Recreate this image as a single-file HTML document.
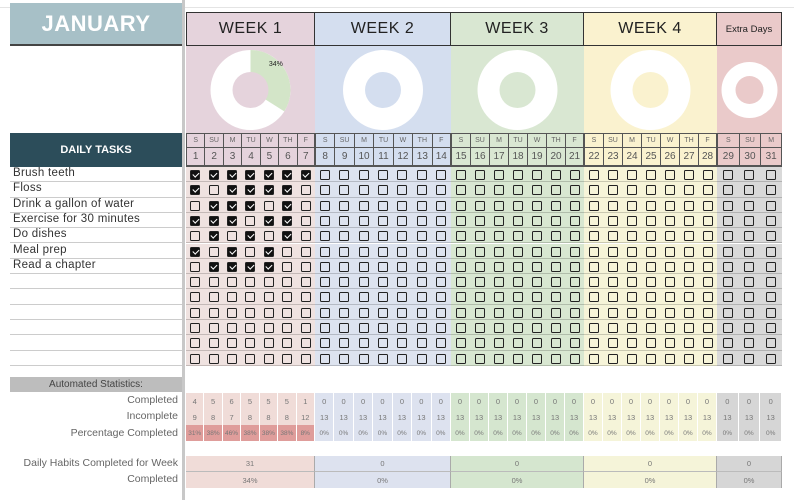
<!DOCTYPE html>
<html><head><meta charset="utf-8"><style>
body{margin:0;width:794px;height:500px;overflow:hidden;background:#fff;font-family:"Liberation Sans",sans-serif;position:relative}
.a{position:absolute;box-sizing:border-box}
.c{display:flex;align-items:center;justify-content:center}
.cb{position:absolute;width:10px;height:10px;border:1.6px solid #222;border-radius:1.5px;box-sizing:border-box}
.cb.on{background:#111}
.cb.on::after{content:"";position:absolute;left:2.5px;top:0px;width:2.5px;height:5px;border:solid #fff;border-width:0 1.3px 1.3px 0;transform:rotate(45deg)}
.task{position:absolute;left:13px;font-size:11.5px;color:#333;letter-spacing:.3px}
.lbl{position:absolute;right:616px;font-size:10.5px;color:#666;text-align:right;white-space:nowrap}
.sv{font-size:7.5px;color:#777}
</style></head><body>
<div class="a" style="left:0;top:0;width:794px;height:8px;border-bottom:1px solid #e4e4e4"></div>
<div class="a c" style="left:10px;top:3px;width:172px;height:43px;background:#a7c0c7;border-bottom:2px solid #444;color:#fff;font-weight:bold;font-size:22px;letter-spacing:.5px">JANUARY</div>
<div class="a" style="left:182px;top:0;width:3px;height:500px;background:#c8c8c8"></div>
<div class="a c" style="left:10px;top:133px;width:172px;height:34px;background:#2c4d5a;color:#fff;font-weight:bold;font-size:11px">DAILY TASKS</div>
<div class="a c" style="left:10px;top:377px;width:172px;height:15px;background:#bdbdbd;color:#444;font-size:10px">Automated Statistics:</div>
<div class="lbl" style="top:394px">Completed</div>
<div class="lbl" style="top:410px">Incomplete</div>
<div class="lbl" style="top:427px">Percentage Completed</div>
<div class="lbl" style="top:457px">Daily Habits Completed for Week</div>
<div class="lbl" style="top:473px">Completed</div>
<div id="root"></div>
<script>
const tasks=["Brush teeth","Floss","Drink a gallon of water","Exercise for 30 minutes","Do dishes","Meal prep","Read a chapter","","","","","",""];
const weekNames=["WEEK 1","WEEK 2","WEEK 3","WEEK 4","Extra Days"];
const dayLetters=["S","SU","M","TU","W","TH","F"];
const checks=[
[1,1,1,1,1,1,1],[1,0,1,1,1,1,0],[0,1,1,1,0,1,0],[1,1,1,0,1,1,0],[0,1,0,1,0,1,0],[1,0,1,0,1,0,0],[0,1,1,1,1,0,0]];
const completed=[4,5,6,5,5,5,1,0,0,0,0,0,0,0,0,0,0,0,0,0,0,0,0,0,0,0,0,0,0,0,0];
const incomplete=[9,8,7,8,8,8,12,13,13,13,13,13,13,13,13,13,13,13,13,13,13,13,13,13,13,13,13,13,13,13,13];
const percents=[31,38,46,38,38,38,8,0,0,0,0,0,0,0,0,0,0,0,0,0,0,0,0,0,0,0,0,0,0,0,0];
const weekTotals=[31,0,0,0,0];
const weekPct=[34,0,0,0,0];

const bounds=[186,315,451,584,717,782];
const nDays=[7,7,7,7,3];
const headC=["#e5d3dc","#d4deef","#d9e7d2","#faf2cf","#eacaca"];
const bodyC=["#efe2e0","#dde3ef","#d8e7d1","#f6f4d8","#d9d9d9"];
const statC=["#f0dcd8","#dde2ef","#d5e6cf","#f5f4d9","#d6d6d6"];
const root=document.getElementById('root');
function box(x,y,w,h,css,name){const d=document.createElement('div');d.className='a';d.style.cssText=`left:${x}px;top:${y}px;width:${w}px;height:${h}px;`+css;


root.appendChild(d);return d;}
const rowY=r=>167+r*15.3;
tasks.forEach((t,r)=>{const d=box(10,rowY(r),172,15.3,'border-bottom:1px solid #ccc;','task-row');
if(t){const s=document.createElement('div');s.className='task';s.style.cssText='left:3px;top:0px';s.textContent=t;


d.appendChild(s);}});
let day=0;
for(let w=0;w<5;w++){
 const x0=bounds[w],x1=bounds[w+1],W=x1-x0,cw=W/nDays[w];
 const t=box(x0,12,W,34,`background:${headC[w]};border:1px solid #333;border-left-width:${w?0:1}px;`,'week-title');
 t.classList.add('c');t.textContent=weekNames[w];t.style.fontSize=w<4?'16px':'9.5px';t.style.color='#222';t.style.letterSpacing=w<4?'.5px':'0';
 box(x0,46,W,87,`background:${headC[w]};`,'donut-area');
 const cx=W/2,cy=44,R=w<4?40:28,ri=w<4?18:14;
 const p=weekPct[w]/100;const ang=p*2*Math.PI;
 const ex=cx+R*Math.sin(ang),ey=cy-R*Math.cos(ang);
 let svg=`<svg width="${W}" height="87" style="position:absolute;left:0;top:0"><circle cx="${cx}" cy="${cy}" r="${R}" fill="#fff"/>`;
 if(p>0)svg+=`<path d="M${cx},${cy} L${cx},${cy-R} A${R},${R} 0 ${p>0.5?1:0} 1 ${ex},${ey} Z" fill="#d3e5c8"/>`;
 svg+=`<circle cx="${cx}" cy="${cy}" r="${ri}" fill="${headC[w]}"/>`;
 if(p>0){const ma=ang/2,lx=cx+(R+ri)/2*Math.sin(ma),ly=cy-(R+ri)/2*Math.cos(ma);svg+=`<text x="${lx}" y="${ly-10}" font-size="7" text-anchor="middle" fill="#222">${weekPct[w]}%</text>`;}
 svg+='</svg>';
 const dn=box(x0,46,W,87,'','week-donut');dn.innerHTML=svg;
 for(let i=0;i<nDays[w];i++){
  const cx0=x0+i*cw;
  const l=box(cx0,133,cw,15,`background:${headC[w]};border:1px solid #555;border-width:1px ${i==nDays[w]-1?1:0}px 1px 1px;font-size:7px;color:#666;`,'day-letter');l.classList.add('c');l.textContent=dayLetters[i];
  const n=box(cx0,148,cw,19,`background:${headC[w]};border:1px solid #555;border-width:0 ${i==nDays[w]-1?1:0}px 2px 1px;font-size:10px;color:#555;`,'day-number');n.classList.add('c');n.textContent=day+1;
  for(let r=0;r<13;r++){
   const cell=box(cx0,rowY(r),cw+0.5,15.3,`background:${bodyC[w]};border-bottom:1px solid rgba(0,0,0,.18);`,'task-cell');
   const on=(checks[r]&&checks[r][day])?1:0;
   const c=document.createElement('div');c.className='cb'+(on?' on':'');c.style.left=(cw/2-5)+'px';c.style.top='3px';
   
   
   cell.appendChild(c);
  }
  const sty=`border-right:1px solid #fff;`;
  const s1=box(cx0,393,cw,16,`background:${statC[w]};${sty}`,'completed-count');s1.classList.add('c','sv');s1.textContent=completed[day];
  const s2=box(cx0,409,cw,16,`background:${statC[w]};${sty}`,'incomplete-count');s2.classList.add('c','sv');s2.textContent=incomplete[day];
  const pc=percents[day];
  const s3=box(cx0,425,cw,16,`background:${pc>0?'#df9d9b':statC[w]};${sty}`,'percent-completed');s3.classList.add('c','sv');s3.textContent=pc+'%';s3.style.fontSize='6.5px';
  day++;
 }
 const t1=box(x0,456,W,16,`background:${statC[w]};border-bottom:1px solid #bbb;border-right:1px solid #aaa;`,'week-habits-total');t1.classList.add('c','sv');t1.textContent=weekTotals[w];
 const t2=box(x0,472,W,16,`background:${statC[w]};border-right:1px solid #aaa;`,'week-completed-percent');t2.classList.add('c','sv');t2.textContent=weekPct[w]+'%';
}
</script>
</body></html>
